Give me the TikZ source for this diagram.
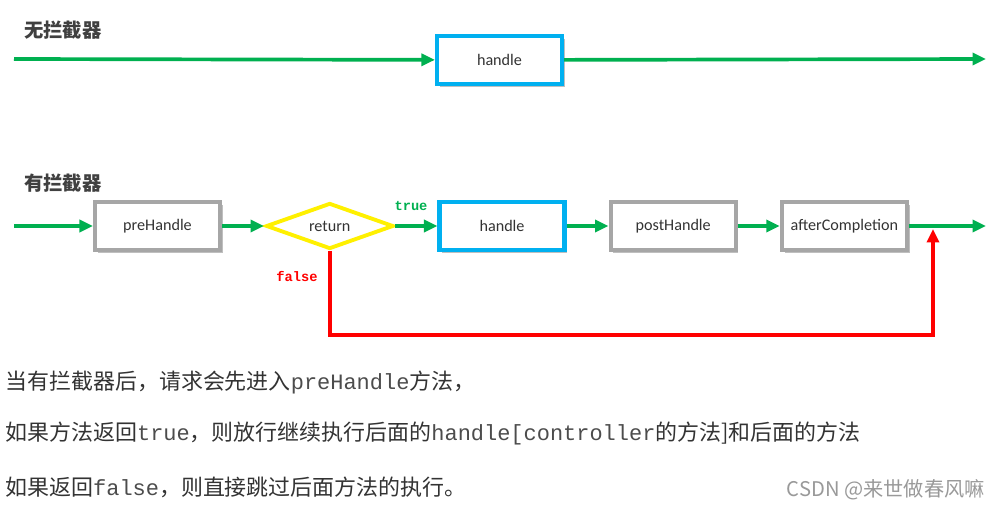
\documentclass[tikz,border=0pt]{standalone}
\usepackage{fontspec}
\setmainfont{Carlito}
\newfontfamily\cjk{Noto Sans CJK SC}
\newfontfamily\mono{Liberation Mono}
\usetikzlibrary{shapes.geometric,arrows.meta,positioning,shadows}
\definecolor{flowgreen}{RGB}{0,176,80}
\definecolor{boxblue}{RGB}{0,176,240}
\definecolor{boxgray}{RGB}{166,166,166}
\definecolor{decyellow}{RGB}{255,240,0}
\definecolor{backred}{RGB}{255,0,0}
\definecolor{inktext}{RGB}{51,51,51}
\newcommand{\codeword}[1]{{\mono\color{black!70}#1}}

\begin{document}
\begin{tikzpicture}[
    x=0.02cm, y=-0.02cm,
    node distance=0.84cm,
    stepbox/.style={rectangle, draw=boxgray, line width=2.4pt, fill=white, minimum width=2.5cm, minimum height=0.96cm, font=\fontsize{9.2}{11}\selectfont, text=inktext, drop shadow={shadow xshift=1.5pt, shadow yshift=-1.5pt, fill=black, opacity=0.25}},
    handlebox/.style={stepbox, draw=boxblue},
    decide/.style={diamond, draw=decyellow, line width=2.2pt, fill=white, aspect=2.6, minimum width=2.55cm, minimum height=0.92cm, inner sep=0pt, font=\fontsize{9.2}{11}\selectfont, text=inktext},
    flow/.style={draw=flowgreen, line width=2.1pt, -{Triangle[length=0.27cm,width=0.24cm]}},
    back/.style={draw=backred, line width=2.1pt, -{Triangle[length=0.27cm,width=0.24cm]}},
    title/.style={font=\cjk\bfseries\fontsize{11}{13}\selectfont, text=black!75, anchor=west},
    para/.style={font=\cjk\fontsize{12.5}{15}\selectfont, text=inktext, anchor=west, inner sep=0pt}
]
    \useasboundingbox (0,0) rectangle (1000,510);

    % without interceptor
    \node[title] (t1) at (18,30) {无拦截器};
    \coordinate (in1) at (14,59);
    \coordinate (out1) at (986,59);
    \node[handlebox] (h1) at (499.5,60) {handle};
    \draw[flow] (in1) -- (h1);
    \draw[flow] (h1) -- (out1);

    % with interceptor
    \node[title] (t2) at (18,183) {有拦截器};
    \coordinate (in2) at (14,226);
    \coordinate (out2) at (986,226);
    \node[stepbox] (pre) at (157.5,226) {preHandle};
    \node[decide, right=0.84cm of pre] (ret) {return};
    \node[handlebox, right=0.84cm of ret] (h2) {handle};
    \node[stepbox, right=of h2] (post) {postHandle};
    \node[stepbox, right=of post] (after) {afterCompletion};

    \draw[flow] (in2) -- (pre);
    \draw[flow] (pre) -- (ret);
    \draw[flow] (ret) -- (h2);
    \draw[flow] (h2) -- (post);
    \draw[flow] (post) -- (after);
    \draw[flow] (after) -- (out2);

    \node[font=\mono\bfseries\fontsize{7.8}{9}\selectfont, text=flowgreen] (yes) at (411,206) {true};
    \node[font=\mono\bfseries\fontsize{7.8}{9}\selectfont, text=backred] (no) at (297,276) {false};

    \coordinate (bypass) at (933,335);
    \coordinate (join) at (933,229);
    \draw[back] (ret.south) |- (bypass) -- (join);

    % notes
    \node[para] (l1) at (5,382) {当有拦截器后，请求会先进入\codeword{preHandle}方法，};
    \node[para] (l2) at (5,433) {如果方法返回\codeword{true}，则放行继续执行后面的\codeword{handle[controller}的方法]和后面的方法};
    \node[para] (l3) at (5,487) {如果返回\codeword{false}，则直接跳过后面方法的执行。};
    \node[font=\cjk\fontsize{11.5}{13}\selectfont, text=black!40, anchor=east, inner sep=0pt] (mark) at (985,490) {CSDN @来世做春风嘛};
\end{tikzpicture}
\end{document}
